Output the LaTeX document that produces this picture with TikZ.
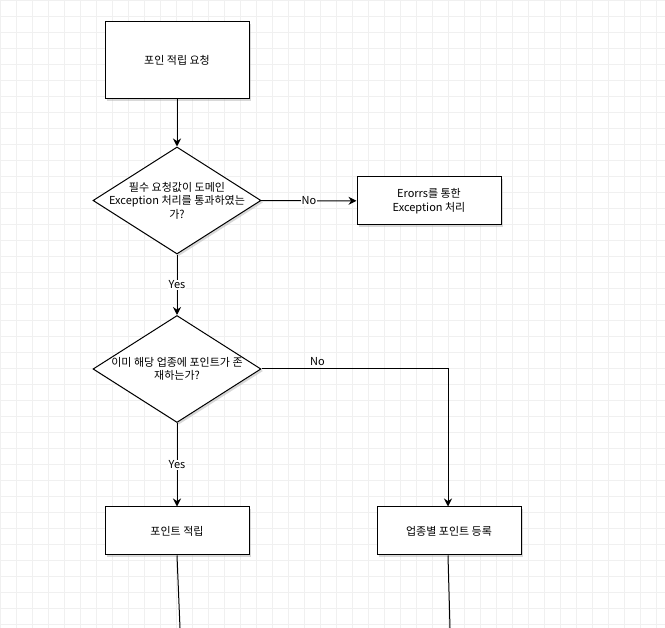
\documentclass[tikz,border=0pt]{standalone}
\usepackage{fontspec}
\setmainfont{Noto Sans CJK KR}
\usetikzlibrary{shapes.geometric,shadows,arrows.meta}
\begin{document}
\begin{tikzpicture}[x=1pt,y=-1pt,
  fs/.style={font=\fontsize{11}{13.5}\selectfont},
  box/.style={draw,line width=1pt,fill=white,minimum width=144pt,align=center,fs,drop shadow={shadow xshift=2pt,shadow yshift=-2pt,fill=gray!60}},
  dia/.style={draw,line width=1pt,fill=white,diamond,minimum width=168pt,minimum height=107pt,inner sep=0pt,drop shadow={shadow xshift=2pt,shadow yshift=-2pt,fill=gray!60}},
  arr/.style={line width=1pt,-{Stealth[length=8pt,width=8pt]}},
  lab/.style={fill=white,inner sep=1pt,fs}]
\useasboundingbox (0,0) rectangle (665,628);
\fill[white] (0,0) rectangle (665,628);
\foreach \i in {0,16,...,665} \draw[gray!12,line width=0.8pt] (\i,0) -- (\i,628);
\foreach \j in {0,16,...,628} \draw[gray!12,line width=0.8pt] (0,\j) -- (665,\j);
\node[box,minimum height=77pt] (a) at (177,60.5) {포인 적립 요청};
\node[dia,aspect=1.57] (d1) at (177,200.5) {};
\node[fs,align=center] at (177,200.5) {필수 요청값이 도메인\\Exception 처리를 통과하였는\\가?};
\node[box,minimum height=48pt] (b) at (429,201) {Erorrs를 통한\\Exception 처리};
\node[dia,aspect=1.57] (d2) at (177,369) {};
\node[fs,align=center] at (177,369) {이미 해당 업종에 포인트가 존\\재하는가?};
\node[box,minimum height=48pt] (c) at (177,531) {포인트 적립};
\node[box,minimum height=48pt] (e) at (449,531) {업종별 포인트 등록};
\coordinate (c2) at (180,628);
\coordinate (e2) at (450,628);
\coordinate (k) at (448,369);
\draw[arr] (a) -- (d1);
\draw[arr] (d1) -- node[lab]{No} (b);
\draw[arr] (d1) -- node[lab]{Yes} (d2);
\draw[arr] (d2) -- node[lab,pos=0.5]{Yes} (c);
\draw[arr] (d2.east) -- node[above,pos=0.3,fs]{No} (k) -- (e.north -| k);
\draw[line width=1pt] (c.south) -- (c2);
\draw[line width=1pt] (e.south -| k) -- (e2);
\end{tikzpicture}
\end{document}
